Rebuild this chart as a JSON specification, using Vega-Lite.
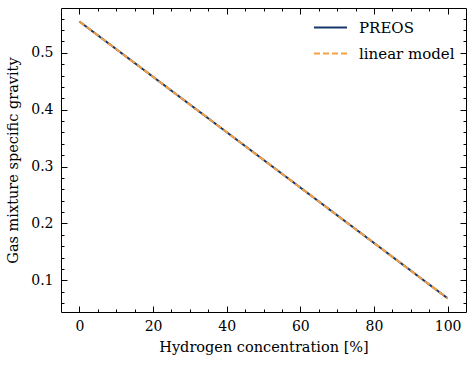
{
  "$schema": "https://vega.github.io/schema/vega-lite/v6.json",
  "width": 405,
  "height": 304,
  "autosize": "none",
  "padding": {"left": 61, "top": 8, "right": 8, "bottom": 54},
  "background": "white",
  "config": {
    "view": {"stroke": "black", "strokeWidth": 1},
    "font": "DejaVu Serif",
    "axis": {
      "grid": false,
      "domain": false,
      "tickColor": "black",
      "tickWidth": 1,
      "labelFont": "DejaVu Serif",
      "labelFontSize": 14,
      "labelColor": "black",
      "titleFont": "DejaVu Serif",
      "titleFontSize": 14.5,
      "titleFontWeight": "normal",
      "titleColor": "black"
    },
    "legend": {
      "labelFont": "DejaVu Serif",
      "labelFontSize": 15,
      "labelColor": "black"
    }
  },
  "data": {
    "values": [
      {"model": "PREOS", "h2": 0, "sg": 0.555},
      {"model": "PREOS", "h2": 25, "sg": 0.4334},
      {"model": "PREOS", "h2": 50, "sg": 0.3118},
      {"model": "PREOS", "h2": 75, "sg": 0.1901},
      {"model": "PREOS", "h2": 100, "sg": 0.0685},
      {"model": "linear model", "h2": 0, "sg": 0.555},
      {"model": "linear model", "h2": 25, "sg": 0.4334},
      {"model": "linear model", "h2": 50, "sg": 0.3118},
      {"model": "linear model", "h2": 75, "sg": 0.1901},
      {"model": "linear model", "h2": 100, "sg": 0.0685}
    ]
  },
  "layer": [
    {
      "mark": {"type": "line", "strokeWidth": 2},
      "encoding": {
        "x": {
          "field": "h2", "type": "quantitative",
          "scale": {"domain": [-5, 105], "nice": false, "zero": false},
          "axis": {"orient": "bottom", "values": [0, 20, 40, 60, 80, 100], "tickSize": -6, "labelPadding": 13, "title": "Hydrogen concentration [%]", "titlePadding": 7}
        },
        "y": {
          "field": "sg", "type": "quantitative",
          "scale": {"domain": [0.0444, 0.5787], "nice": false, "zero": false},
          "axis": {"orient": "left", "values": [0.1, 0.2, 0.3, 0.4, 0.5], "tickSize": -6, "labelPadding": 14, "format": ".1f", "title": "Gas mixture specific gravity", "titlePadding": 10}
        },
        "color": {
          "field": "model", "type": "nominal",
          "scale": {"domain": ["PREOS", "linear model"], "range": ["#16376b", "#f5a043"]},
          "legend": {"title": null, "orient": "none", "legendX": 252, "legendY": 2, "symbolType": "stroke", "symbolSize": 1089, "symbolStrokeWidth": 2, "labelOffset": 11, "padding": 0, "rowPadding": -5}
        },
        "strokeDash": {
          "field": "model", "type": "nominal",
          "scale": {"domain": ["PREOS", "linear model"], "range": [[1, 0], [6, 3]]},
          "legend": null
        }
      }
    },
    {
      "mark": {"type": "line", "opacity": 0},
      "encoding": {
        "x": {"field": "h2", "type": "quantitative", "scale": {"domain": [-5, 105], "nice": false, "zero": false},
          "axis": {"orient": "bottom", "values": [5, 10, 15, 25, 30, 35, 45, 50, 55, 65, 70, 75, 85, 90, 95], "tickSize": -3, "labels": false, "title": null}},
        "y": {"field": "sg", "type": "quantitative", "scale": {"domain": [0.0444, 0.5787], "nice": false, "zero": false},
          "axis": {"orient": "left", "values": [0.06, 0.08, 0.12, 0.14, 0.16, 0.18, 0.22, 0.24, 0.26, 0.28, 0.32, 0.34, 0.36, 0.38, 0.42, 0.44, 0.46, 0.48, 0.52, 0.54, 0.56], "tickSize": -3, "labels": false, "title": null}}
      }
    },
    {
      "mark": {"type": "line", "opacity": 0},
      "encoding": {
        "x": {"field": "h2", "type": "quantitative", "scale": {"domain": [-5, 105], "nice": false, "zero": false},
          "axis": {"orient": "top", "values": [0, 20, 40, 60, 80, 100], "tickSize": -6, "labels": false, "title": null}},
        "y": {"field": "sg", "type": "quantitative", "scale": {"domain": [0.0444, 0.5787], "nice": false, "zero": false},
          "axis": {"orient": "right", "values": [0.1, 0.2, 0.3, 0.4, 0.5], "tickSize": -6, "labels": false, "title": null}}
      }
    },
    {
      "mark": {"type": "line", "opacity": 0},
      "encoding": {
        "x": {"field": "h2", "type": "quantitative", "scale": {"domain": [-5, 105], "nice": false, "zero": false},
          "axis": {"orient": "top", "values": [5, 10, 15, 25, 30, 35, 45, 50, 55, 65, 70, 75, 85, 90, 95], "tickSize": -3, "labels": false, "title": null}},
        "y": {"field": "sg", "type": "quantitative", "scale": {"domain": [0.0444, 0.5787], "nice": false, "zero": false},
          "axis": {"orient": "right", "values": [0.06, 0.08, 0.12, 0.14, 0.16, 0.18, 0.22, 0.24, 0.26, 0.28, 0.32, 0.34, 0.36, 0.38, 0.42, 0.44, 0.46, 0.48, 0.52, 0.54, 0.56], "tickSize": -3, "labels": false, "title": null}}
      }
    }
  ],
  "resolve": {"axis": {"x": "independent", "y": "independent"}}
}
